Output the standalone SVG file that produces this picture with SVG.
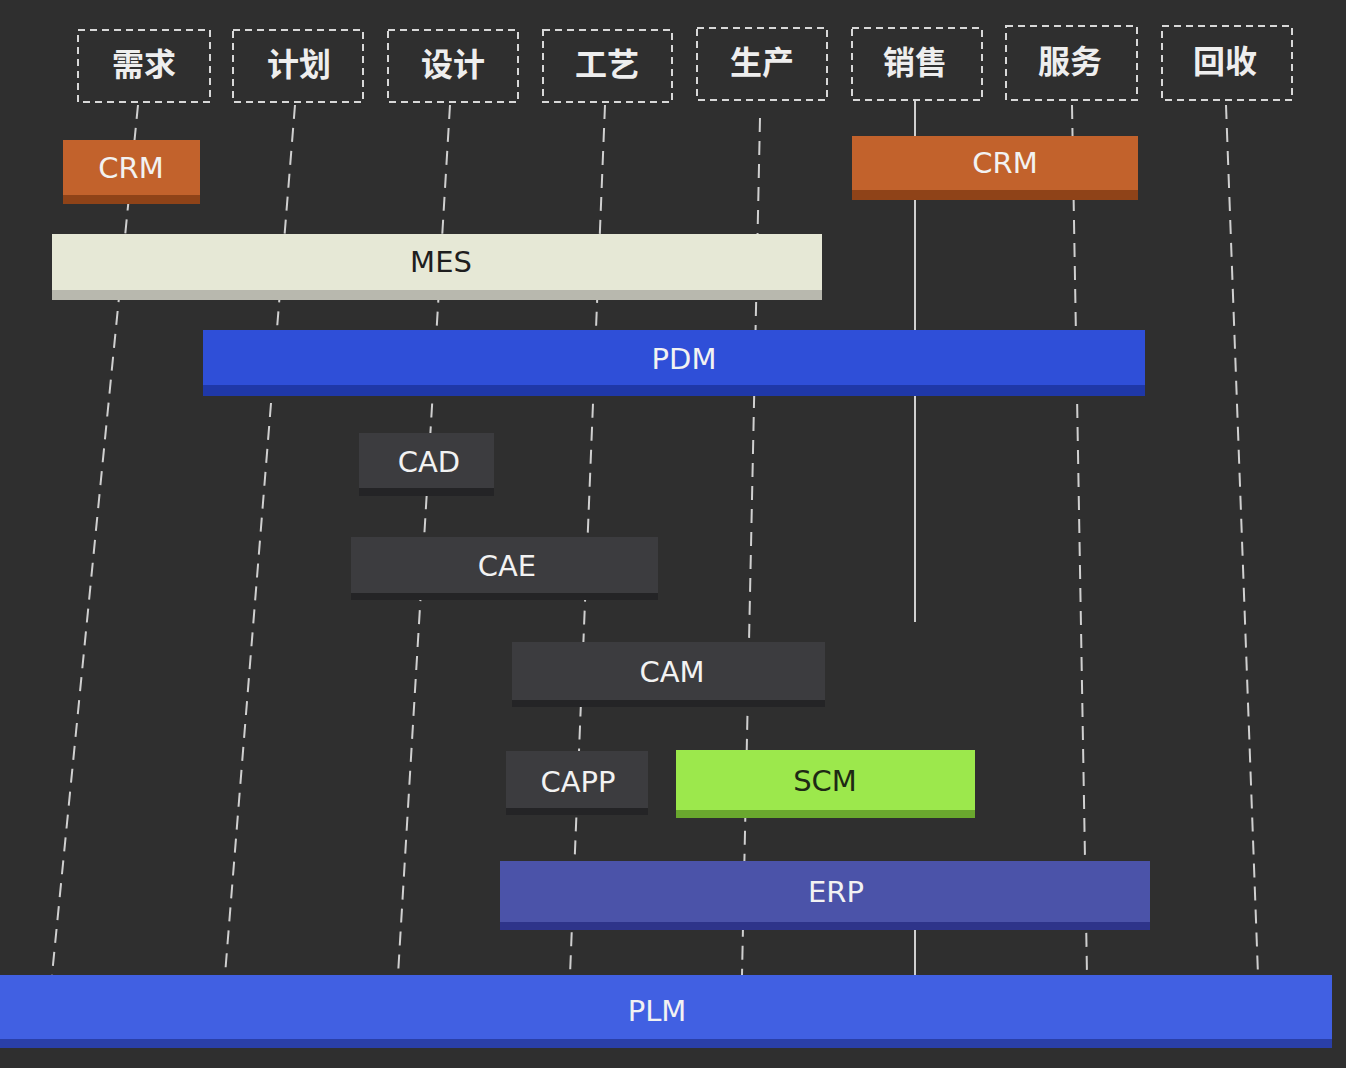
<svg xmlns="http://www.w3.org/2000/svg" width="1346" height="1068" viewBox="0 0 1346 1068">
<style>
.hd{fill:none;stroke:#d8d8d8;stroke-width:2;stroke-dasharray:7 5}
.ht{font-family:"Noto Sans CJK SC",sans-serif;font-weight:bold;font-size:32px;fill:#eeeeee;text-anchor:middle}
.ln{stroke:#d0d0d0;stroke-width:2;stroke-dasharray:14 9}
.bt{font-family:"DejaVu Sans",sans-serif;font-size:29px;fill:#f2f2f2;text-anchor:middle;dominant-baseline:central}
.dk{fill:#3c3c3f}
.dks{fill:#242426}
</style>
<rect width="1346" height="1068" fill="#2f2f2f"/>
<g id="connectors">
<line class="ln" x1="138" y1="105" x2="52" y2="975"/>
<line class="ln" x1="295" y1="105" x2="225" y2="975"/>
<line class="ln" x1="450" y1="105" x2="398" y2="975"/>
<line class="ln" x1="605" y1="105" x2="570" y2="975"/>
<line class="ln" x1="760" y1="118" x2="742" y2="975"/>
<line x1="915" y1="100" x2="915" y2="622" stroke="#d0d0d0" stroke-width="2"/>
<line x1="915" y1="930" x2="915" y2="975" stroke="#d0d0d0" stroke-width="2"/>
<line class="ln" x1="1072" y1="105" x2="1087" y2="975"/>
<line class="ln" x1="1226" y1="105" x2="1258" y2="975"/>
</g>
<g id="headers">
<rect class="hd" x="78" y="30" width="132" height="72"/><text class="ht" x="144" y="76">需求</text>
<rect class="hd" x="233" y="30" width="130" height="72"/><text class="ht" x="299" y="76">计划</text>
<rect class="hd" x="388" y="30" width="130" height="72"/><text class="ht" x="453" y="76">设计</text>
<rect class="hd" x="543" y="30" width="129" height="72"/><text class="ht" x="607" y="76">工艺</text>
<rect class="hd" x="697" y="28" width="130" height="72"/><text class="ht" x="762" y="74">生产</text>
<rect class="hd" x="852" y="28" width="130" height="72"/><text class="ht" x="915" y="74">销售</text>
<rect class="hd" x="1006" y="26" width="131" height="74"/><text class="ht" x="1070" y="73">服务</text>
<rect class="hd" x="1162" y="26" width="130" height="74"/><text class="ht" x="1225" y="73">回收</text>
</g>
<g id="crm1"><rect x="63" y="150" width="137" height="54" fill="#8f4318"/><rect x="63" y="140" width="137" height="55" fill="#c2622c"/><text class="bt" x="131" y="168">CRM</text></g>
<g id="crm2"><rect x="852" y="146" width="286" height="54" fill="#8f4318"/><rect x="852" y="136" width="286" height="54" fill="#c2622c"/><text class="bt" x="1005" y="163">CRM</text></g>
<g id="mes"><rect x="52" y="244" width="770" height="56" fill="#b8b8ae"/><rect x="52" y="234" width="770" height="56" fill="#e6e8d6"/><text class="bt" x="441" y="262" style="fill:#1e1e1e">MES</text></g>
<g id="pdm"><rect x="203" y="340" width="942" height="56" fill="#1f38a8"/><rect x="203" y="330" width="942" height="55" fill="#2f4fd8"/><text class="bt" x="684" y="359">PDM</text></g>
<g id="cad"><rect class="dks" x="359" y="440" width="135" height="56"/><rect class="dk" x="359" y="433" width="135" height="55"/><text class="bt" x="429" y="462">CAD</text></g>
<g id="cae"><rect class="dks" x="351" y="544" width="307" height="56"/><rect class="dk" x="351" y="537" width="307" height="56"/><text class="bt" x="507" y="566">CAE</text></g>
<g id="cam"><rect class="dks" x="512" y="649" width="313" height="58"/><rect class="dk" x="512" y="642" width="313" height="58"/><text class="bt" x="672" y="672">CAM</text></g>
<g id="capp"><rect class="dks" x="506" y="758" width="142" height="57"/><rect class="dk" x="506" y="751" width="142" height="57"/><text class="bt" x="578" y="782">CAPP</text></g>
<g id="scm"><rect x="676" y="758" width="299" height="60" fill="#6aa82e"/><rect x="676" y="750" width="299" height="60" fill="#9ce84c"/><text class="bt" x="825" y="781" style="fill:#1e2a14">SCM</text></g>
<g id="erp"><rect x="500" y="870" width="650" height="60" fill="#2e348a"/><rect x="500" y="861" width="650" height="61" fill="#4b53a9"/><text class="bt" x="836" y="892">ERP</text></g>
<g id="plm"><rect x="0" y="984" width="1332" height="64" fill="#2a3fa8"/><rect x="0" y="975" width="1332" height="64" fill="#4160e2"/><text class="bt" x="657" y="1011">PLM</text></g>
</svg>
